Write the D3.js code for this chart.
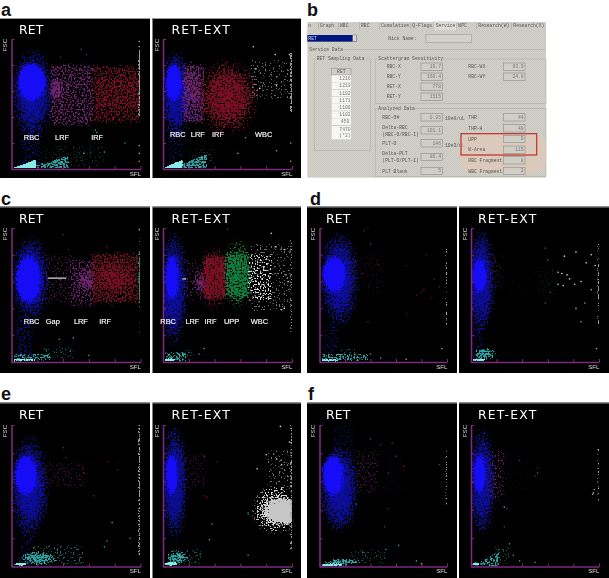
<!DOCTYPE html>
<html><head><meta charset="utf-8">
<script src="https://cdn.jsdelivr.net/npm/d3@7"></script>
<style>html,body{margin:0;background:#fff;overflow:hidden}svg{display:block}</style>
</head><body><svg id="c" width="609" height="578" font-family="Liberation Sans"></svg>
<script>
// ---------- DATA: FSC/SFL axes run 0-5 grid divisions ----------
const xTicks=[0,1,2,3,4,5], yTicks=[0,1,2,3,4,5];
// cloud rows: [series, e(llipse)|b(ox)|t(riangle), sfl0, sfl1, fsc0, fsc1, density]
const cloudsARet=[["RBCh","e",-.05,1.7,1.1,4.7,1],["RBCh","b",.35,1.15,.1,1.7,.2],["RBC","e",.18,1.38,2.55,4.15,1],
 ["LRF","b",1.5,3.2,1.7,4,.48],["LRF","e",1.42,2.05,2.55,3.55,1],["IRF","b",3.15,5,1.8,3.95,.48],["IRF","b",3.3,5,2.3,3.5,.28],
 ["PLT","t",.6,2.2,.04,.5,.72],["PLTc","t",.06,.95,.04,.36,.9],["PLT","b",1.3,3.6,.1,.9,.07],["SAT","b",4.93,4.98,2,4.6,1]];
const cloudsAExt=[["RBCh","e",-.15,1.15,1.1,4.7,1],["RBCh","b",.2,.8,.1,1.5,.18],["RBC","e",.08,.74,2.55,4.1,1],
 ["LRF","b",.75,1.6,1.8,4,.58],["LRF","e",.72,1.5,2.4,3.9,.8],["RBCh","b",.75,1.5,1.9,3,.2],["IRF","e",1.2,3.8,1.2,4.3,1],
 ["WBC","b",3.4,5,2.7,4.2,.12],["SAT","b",4.94,4.99,2.2,4.5,1],["PLTc","t",.02,.75,.04,.36,.9],["PLT","t",.4,1.7,.04,.6,.75],["PLT","b",1,2,.2,.8,.07]];
const cloudsCRet=[["RBCh","e",-.05,1.55,1.4,4.8,1],["RBCh","b",.2,.8,.1,1.7,.25],["RBC","e",.12,1.18,2.15,4.05,1],
 ["LRF","b",1.3,2.4,2.2,4,.17],["LRF","b",2.3,3.2,2.1,3.8,.38],["LRF","e",2.5,3.3,2.5,3.6,.85],["IRF","b",3.1,5,2.2,4.05,.55],["IRF","e",3,4.9,2.5,3.8,.7],
 ["SATg","b",4.93,4.98,2.2,4.1,1],["SAT","b",4.95,4.99,1,5,.2],["PLTc","b",.1,.9,.03,.12,.75],["PLT","b",.1,1.5,.05,.3,.5],["PLT","b",1.2,2.4,.15,.55,.14]];
const cloudsCExt=[["RBCh","e",-.2,1,.5,5,1],["RBC","e",.08,.62,2.25,4.05,1],
 ["LRF","b",.8,1.9,2.3,3.8,.18],["LRF","e",1.15,1.75,2.5,3.4,.9],["IRF","b",1.6,2.45,2.4,3.95,.85],["IRF","e",1.3,2.7,1.8,4.4,.7],
 ["UPP","b",2.45,3.35,2.4,4.05,.68],["UPP","e",2.25,3.55,1.9,4.7,.7],["WBC","b",3.3,4.2,2.3,4,.3],["WBC","b",3.4,5,1.9,4.4,.13],["SAT","b",4.95,4.99,1.1,4.6,.5],
 ["PLTc","e",.03,.5,.02,.14,.9],["PLT","b",.1,.9,.03,.35,.55],["PLT","b",.6,1.2,.2,.45,.14]];
const cloudsDRet=[["RBCh","e",-.05,1.6,1.2,5,1],["RBCh","b",.2,.7,.1,1.5,.18],["RBC","e",.08,1.08,2.55,4,1],
 ["LRF","b",1.3,2.5,2.6,4,.08],["PLTc","b",.1,.7,.03,.1,.8],["PLT","b",.1,1.9,.05,.3,.5],["PLT","b",.8,1.4,.2,.5,.14],["SAT","b",4.95,4.99,1.4,4.3,.55]];
const cloudsDExt=[["RBCh","e",-.2,1,.9,5.1,1],["RBCh","b",.05,.5,.1,1.3,.18],["RBC","e",.05,.62,2.55,3.9,1],
 ["LRF","b",.7,1.3,2.7,4,.12],["IRF","b",1.5,2.6,2.2,3.6,.05],["UPP","b",2.6,3.4,2.5,3.5,.07],["PLTc","e",.02,.6,.03,.14,.9],["PLT","e",.05,1,.05,.55,.95],["SAT","b",4.95,4.99,1.4,4.4,.6]];
const cloudsERet=[["RBCh","e",-.1,1.5,.9,4.7,1],["RBCh","b",.3,.8,.1,1.3,.16],["RBC","e",.08,1.02,2.45,4,1],
 ["LRF","b",1.3,2.9,2.8,3.7,.13],["IRF","b",3,4.6,3.3,3.8,.04],["PLTc","e",.1,.6,.02,.14,.9],["PLT","e",.2,1.8,.03,.55,.95],["PLT","b",.8,2.8,.05,.75,.17],["SAT","b",4.93,4.97,.4,5,1]];
const cloudsEExt=[["RBCh","e",-.1,1,.8,5.1,1],["RBC","e",.08,.57,2.45,4.05,1],
 ["LRF","b",.7,1.7,2.7,4,.1],["WBCd","e",3.85,5.6,1.45,2.45,1],["WBC","e",3.4,5.3,1.1,2.9,.8],["WBC","b",4,5,2.7,4.1,.13],
 ["SAT","b",4.95,4.99,.6,5,.85],["PLTc","e",.03,.6,.02,.18,.9],["PLT","e",.05,1.05,.03,.6,.95],["PLT","b",.8,1.5,.1,.6,.14]];
const cloudsFRet=[["RBCh","e",-.05,1.6,1.1,4.4,1],["RBCh","b",.5,1.3,1.5,5,.12],["RBC","e",.08,.98,2.45,4,1],
 ["LRF","b",1.4,2.3,2.6,4.1,.17],["LRF","b",2.3,3.4,2.6,4.1,.04],["PLTc","b",.12,.85,.02,.1,.8],["PLT","e",.15,1.7,.02,.3,.95],["PLT","b",1.2,2.6,.1,.6,.12],["SAT","b",4.95,4.99,2.2,4.2,.45]];
const cloudsFExt=[["RBCh","e",-.12,1,1.0,5,1],["RBC","e",.08,.58,2.55,4,1],
 ["LRF","b",.7,1.3,2.4,4.1,.25],["LRF","b",1.3,2.4,2.7,4,.04],["PLTc","e",.03,.35,.02,.15,.9],["PLT","t",.06,1.1,.03,.5,.55],["PLT","b",.8,1.5,.1,.7,.12],["SAT","b",4.95,4.99,2.3,4.3,.45]];
// individual events: [series, sfl, fsc]
const pointsARet=[["LRF",2.9,4.4],["LRF",2.7,4.6],["LRF",1.9,4.3],["PLT",3.25,1.5],["PLT",3.3,1.4],["PLT",3.6,.65],["PLT",4.4,1],["SAT",4.95,4.7],["SAT",4.95,4.9],["SAT",4.95,.9],["SAT",4.95,.6],["SAT",4.95,.3],["PLT",2.8,.6],["IRF",2,.02]];
const pointsAExt=[["WBC",3.5,4.7],["WBC",4.35,4.4],["WBC",4.9,4.4],["WBC",3.6,3.85],["WBC",4.4,3.2],["WBC",3.75,3.1],["SAT",4.4,.7],["PLT",3.2,1.2],["PLT",2.9,.6],["LRF",1.1,4.1],["SAT",4.95,.3],["SAT",4.95,1]];
const pointsCRet=[["LRF",2,4.75],["IRF",2.2,4.2],["IRF",3.7,4.3],["IRF",4.1,4.1],["PLT",1.85,.85],["PLT",2.4,.9],["PLT",3,.25],["SAT",4.95,4.95],["LRF",1.2,2.3],["IRF",3.9,2.1]];
const pointsCExt=[["WBC",4.2,4.8],["WBC",4.35,4.3],["WBC",4.7,4.2],["WBC",4.85,3],["WBC",4.7,2],["WBC",4.6,1.95],["LRF",2.5,4.95],["PLT",1.4,.3],["PLT",1.6,.5]];
const pointsDRet=[["LRF",1.75,4.9],["LRF",1.9,5],["LRF",2,4.4],["LRF",1.4,3.75],["LRF",2.3,3.65],["LRF",1.7,3.3],["IRF",3.4,3.6],["IRF",4.2,4],["IRF",4.1,2.7],["IRF",4.4,2.4],["IRF",4.7,2.8],["IRF",4.5,3.1],["IRF",3.8,2.5],["IRF",4,2.6],["IRF",3.4,1.8],["LRF",1.9,1.5],["PLT",2,.3],["PLT",2.4,.15],["SAT",4.8,.5],["SAT",3.4,.1]];
const pointsDExt=[["WBC",3.4,3.35],["WBC",3.55,3.3],["WBC",3.75,3.25],["WBC",3.85,3.1],["WBC",3.4,2.9],["WBC",3.6,2.85],["WBC",4.1,4.1],["WBC",4.7,4],["WBC",4.85,3.6],["WBC",3.65,3.95],["WBC",4.5,3.7],["WBC",4.3,3],["WBC",4.05,2.9],["SAT",4.7,2.7],["SAT",4.1,2],["SAT",4.3,1.5],["SAT",4.45,2.2],["UPP",2.9,4.25],["UPP",3,3.8],["UPP",3.1,2.6],["UPP",2.9,2.2],["SAT",4.9,.5]];
const pointsERet=[["IRF",2.1,3.85],["LRF",2.8,3.3],["IRF",3.75,3.7],["IRF",4.1,3.4],["PLT",3.9,1.55],["PLT",3.7,.9],["PLT",4.6,1],["PLT",3.6,.7],["LRF",3.2,2.5],["LRF",2,4.2]];
const pointsEExt=[["WBC",4.55,4.95],["WBC",4.9,4.4],["WBC",4,3.95],["WBC",3.65,3.45],["WBC",4.4,3.8],["WBC",4.6,3.6],["IRF",1.6,2.5],["IRF",1.7,2.45],["IRF",2.1,3.7],["PLT",1.9,1.5],["PLT",1.8,.95],["PLT",3.3,.4],["UPP",3.3,1.9],["UPP",3.3,1.85],["LRF",1.6,3.9]];
const pointsFRet=[["LRF",2,4.5],["LRF",1.9,3.65],["LRF",2.4,4.3],["LRF",2.85,4.35],["LRF",3,3.9],["LRF",3.3,3.55],["LRF",2.7,3.3],["LRF",4.7,3.6],["LRF",2.7,2.05],["LRF",2.55,1.4],["LRF",1.45,2.2],["PLT",1.7,.5],["PLT",2.6,.6],["PLT",3.1,.75],["PLT",3.8,.2],["SAT",4,.1]];
const pointsFExt=[["LRF",1.4,2.05],["LRF",1.3,1.4],["IRF",2.6,3.5],["UPP",2.6,3.3],["LRF",1.9,3.75],["LRF",2.5,3.2],["SAT",4.75,2.55],["SAT",4.82,2.72],["SAT",4.78,2.6],["PLT",1.5,.8],["PLT",1.65,.4],["PLT",1.9,.2],["PLT",2.5,.15],["SAT",1.3,2.1]];
// labels: [text, sfl, fsc]
const labelsARet=[["RBC",.78,1.12],["LRF",1.96,1.12],["IRF",3.32,1.12]];
const labelsAExt=[["RBC",.57,1.22],["LRF",1.35,1.22],["IRF",2.13,1.22],["WBC",3.9,1.22]];
const labelsCRet=[["RBC",.78,1.43],["Gap",1.6,1.43],["LRF",2.69,1.43],["IRF",3.63,1.43]];
const labelsCExt=[["RBC",.2,1.43],["LRF",1.14,1.43],["IRF",1.84,1.43],["UPP",2.66,1.43],["WBC",3.74,1.43]];
// white gap bars: [sfl0, sfl1, fsc]
const gapCRet=[[1.4,2.12,3.13]];
const gapCExt=[[.75,.9,3.1]];
const panelLetters=["a","b","c","d","e","f"];
const panelNames=["RET","RET-EXT"];
// instrument service screen (panel b)
const tabNames=["n","Graph","WBC","RBC","Cumulative","Q-Flags","Service","WPC","Research(W)","Research(X)"];
const retSampling=["1216","1219","1192","1171","1100","1102","459"];
const sensLabels=["RBC-X","RBC-Y","RET-X","RET-Y","RBC-WX","RBC-WY"];
const sensValues=["19.7","169.4","778","1515","93.9","24.8"];
const analyzedLeft=["RBC-O#","PLT-O","PLT Blank"];
const analyzedLeftValues=["0.95","146","5"];
const analyzedRight=["THR","THR-H","UPP","W-Area","RBC Fragment","WBC Fragment"];
const analyzedRightValues=["44","49","0","115","8","2"];

// ---------- LAYOUT & STYLE ----------
const svg=d3.select("#c"), defs=svg.append("defs");
// colour, noise seed, edge blur, density gain (above 1 = more solid)
const serStyle={RBC:["#1210f6",1,1.4,1.8],RBCh:["#11119c",2,1.6,1.25],LRF:["#6e2070",3,1.6,1],IRF:["#7c0e20",4,1.6,1],UPP:["#0d7f3e",5,1.4,1],
 WBC:["#d8d8d8",6,.6,1],WBCd:["#c6c6c6",7,1,1.5],PLT:["#2aa6a4",8,.7,1],PLTc:["#86ece6",9,.5,1.4],SAT:["#a0a0a0",10,0,1],SATg:["#2f8f70",11,0,1]};
const softBlob=new Set(["RBC","WBCd","PLTc"]);
const drawOrder=["RBCh","LRF","IRF","UPP","WBC","WBCd","PLT","SAT","SATg","RBC","PLTc"];
Object.entries(serStyle).forEach(([k,[col,seed,blur,gain]])=>{
 const f=defs.append("filter").attr("id","sp"+k).attr("filterUnits","userSpaceOnUse").attr("x",0).attr("y",0).attr("width",609).attr("height",578)
  .attr("color-interpolation-filters","sRGB");
 f.append("feTurbulence").attr("type","fractalNoise").attr("baseFrequency",.63).attr("numOctaves",1).attr("seed",seed).attr("result","t");
 f.append("feColorMatrix").attr("in","t").attr("type","matrix").attr("values","0 0 0 0 0 0 0 0 0 0 0 0 0 0 0 3.2 0 0 0 -1.1").attr("result","n");
 f.append("feGaussianBlur").attr("in","SourceAlpha").attr("stdDeviation",blur).attr("result","d");
 f.append("feComposite").attr("in","d").attr("in2","n").attr("operator","arithmetic").attr("k1",0).attr("k2",gain).attr("k3",1).attr("k4",-1).attr("result","m");
 const ct=f.append("feComponentTransfer").attr("in","m").attr("result","mm");ct.append("feFuncA").attr("type","linear").attr("slope",4).attr("intercept",0);
 f.append("feFlood").attr("flood-color",col).attr("result","fl");
 f.append("feComposite").attr("in","fl").attr("in2","mm").attr("operator","in");
});
[["soft",.45],["soft2",.3],["soft3",.45]].forEach(([id,s])=>defs.append("filter").attr("id",id).attr("filterUnits","userSpaceOnUse").attr("x",0).attr("y",0).attr("width",609).attr("height",578)
 .append("feGaussianBlur").attr("stdDeviation",s));
const rg=defs.append("radialGradient").attr("id","blob");
[[0,1],[.55,1],[.82,.6],[1,0]].forEach(([o,a])=>rg.append("stop").attr("offset",o).attr("stop-color","#fff").attr("stop-opacity",a));
const rg2=defs.append("radialGradient").attr("id","blobF");
[[0,1],[.45,.85],[.75,.42],[1,0]].forEach(([o,a])=>rg2.append("stop").attr("offset",o).attr("stop-color","#fff").attr("stop-opacity",a));
const pat=defs.append("pattern").attr("id","dith").attr("width",2).attr("height",2).attr("patternUnits","userSpaceOnUse");
pat.append("rect").attr("width",2).attr("height",2).attr("fill","#d1d1c9");
pat.append("rect").attr("width",1).attr("height",1).attr("fill","#c9c9c1");
pat.append("rect").attr("x",1).attr("y",1).attr("width",1).attr("height",1).attr("fill","#c9c9c1");

const colX={L:[[0,150,11.5,140.5],[152.5,301,163,292]],R:[[307,457,319.5,447],[459,609,471,599]]};
const rows={a:[18,178,39,169],c:[206.5,373,228,362],d:[206.5,373,228,362],e:[402.5,578,425,566.5],f:[402.5,578,425,566.5]};
const lay={a:"L",c:"L",d:"R",e:"L",f:"R"};
const sets={a:[[cloudsARet,pointsARet,labelsARet,[]],[cloudsAExt,pointsAExt,labelsAExt,[]]],
 c:[[cloudsCRet,pointsCRet,labelsCRet,gapCRet],[cloudsCExt,pointsCExt,labelsCExt,gapCExt]],
 d:[[cloudsDRet,pointsDRet,[],[]],[cloudsDExt,pointsDExt,[],[]]],
 e:[[cloudsERet,pointsERet,[],[]],[cloudsEExt,pointsEExt,[],[]]],
 f:[[cloudsFRet,pointsFRet,[],[]],[cloudsFExt,pointsFExt,[],[]]]};
const purple="#7c2a7c";

Object.keys(sets).forEach(letter=>{
 const [top,bot,yT,yB]=rows[letter];
 sets[letter].forEach(([clouds,points,labels,gaps],i)=>{
  const [px0,px1,xL,xR]=colX[lay[letter]][i];
  const x=d3.scaleLinear().domain([0,5]).range([xL,xR]), y=d3.scaleLinear().domain([0,5]).range([yB,yT]);
  svg.append("rect").attr("x",px0).attr("y",top).attr("width",px1-px0).attr("height",bot-top).attr("fill","#000");
  svg.append("rect").attr("x",px0).attr("y",top).attr("width",px1-px0).attr("height",1).attr("fill","#9a9a9a");
  const cid=`clip${letter}${i}`;
  defs.append("clipPath").attr("id",cid).append("rect").attr("x",xL).attr("y",yT).attr("width",xR-xL).attr("height",yB-yT);
  const plot=svg.append("g").attr("clip-path",`url(#${cid})`).append("g").attr("filter","url(#soft)");
  const tri=d3.line();
  drawOrder.forEach(s=>{
   const rowsS=clouds.filter(d=>d[0]===s); if(!rowsS.length) return;
   const g=plot.append("g").attr("filter",`url(#sp${s})`);
   g.selectAll("ellipse").data(rowsS.filter(d=>d[1]==="e")).join("ellipse")
    .attr("cx",d=>x((d[2]+d[3])/2)).attr("cy",d=>y((d[4]+d[5])/2))
    .attr("rx",d=>Math.abs(x(d[3])-x(d[2]))/2).attr("ry",d=>Math.abs(y(d[4])-y(d[5]))/2)
    .attr("fill",softBlob.has(s)?"url(#blob)":"url(#blobF)").attr("opacity",d=>d[6]);
   g.selectAll("rect").data(rowsS.filter(d=>d[1]==="b")).join("rect")
    .attr("x",d=>x(d[2])).attr("y",d=>y(d[5])).attr("width",d=>x(d[3])-x(d[2])).attr("height",d=>y(d[4])-y(d[5]))
    .attr("fill","#fff").attr("opacity",d=>d[6]);
   g.selectAll("path").data(rowsS.filter(d=>d[1]==="t")).join("path")
    .attr("d",d=>tri([[x(d[2]),y(d[4])],[x(d[3]),y(d[4])],[x(d[3]),y(d[5])]])+"Z")
    .attr("fill","#fff").attr("opacity",d=>d[6]);
  });
  plot.selectAll("circle.ev").data(points).join("circle").attr("class","ev")
   .attr("cx",d=>x(d[1])).attr("cy",d=>y(d[2])).attr("r",.8).attr("fill",d=>serStyle[d[0]][0]);
  svg.selectAll(null).data(gaps).join("line").attr("x1",d=>x(d[0])).attr("x2",d=>x(d[1])).attr("y1",d=>y(d[2])).attr("y2",d=>y(d[2]))
   .attr("stroke","#e0e0e0").attr("stroke-width",1.2);
  // axes
  const ax=svg.append("g").attr("transform",`translate(0,${yB})`).call(d3.axisBottom(x).tickValues(xTicks).tickSizeInner(-3).tickSizeOuter(0).tickFormat(""));
  const ay=svg.append("g").attr("transform",`translate(${xL},0)`).call(d3.axisLeft(y).tickValues(yTicks).tickSizeInner(-3).tickSizeOuter(0).tickFormat(""));
  [ax,ay].forEach(a=>{a.selectAll("path,line").attr("stroke",purple);a.select("path").attr("stroke-width",1.6);a.selectAll("line").attr("stroke-width",1)});
  // text
  const txt=svg.append("g").attr("filter","url(#soft2)");
  txt.append("text").text(panelNames[i]).attr("x",px0+19).attr("y",top+16).attr("font-size",12.4).attr("fill","#fff")
   .attr("font-family","DejaVu Sans").attr("letter-spacing",i?1.2:.2);
  txt.append("text").text("SFL").attr("x",xR+.5).attr("y",yB+6.8).attr("text-anchor","end").attr("font-size",6.2).attr("fill","#ddd");
  txt.append("text").text("FSC").attr("transform",`translate(${xL-4.5},${yT+6}) rotate(-90)`).attr("text-anchor","middle").attr("font-size",6.2).attr("fill","#ddd");
  txt.selectAll(null).data(labels).join("text").text(d=>d[0]).attr("x",d=>x(d[1])).attr("y",d=>y(d[2])).attr("text-anchor","middle")
   .attr("font-size",7.4).attr("fill","#fff").attr("stroke","#fff").attr("stroke-width",.15);
 });
});
// panel letters
const letterPos=[[1,16],[307,16],[1,205],[310,205],[1,400],[308,400]];
svg.selectAll("text.pl").data(panelLetters).join("text").attr("class","pl").text(d=>d)
 .attr("x",(d,i)=>letterPos[i][0]).attr("y",(d,i)=>letterPos[i][1]).attr("font-size",18).attr("font-weight",700).attr("fill","#111");

// ---------- PANEL b: service screen ----------
const Z=v=>v/3, bx=v=>300+v/3, by=v=>v/3;
const b=svg.append("g").attr("filter","url(#soft3)");
const mono="Liberation Mono", ink="#565656";
b.append("rect").attr("x",bx(22)).attr("y",by(66)).attr("width",Z(716)).attr("height",Z(467)).attr("fill","url(#dith)");
const T=(s,zx,zy,o={})=>b.append("text").text(s).attr("x",bx(zx)).attr("y",by(zy)+1.7).attr("font-family",mono).attr("font-size",o.fs||4.7).attr("fill",o.c||ink).attr("text-anchor",o.a||"start");
const R=(x0,y0,x1,y1,f,s,w)=>b.append("rect").attr("x",bx(x0)).attr("y",by(y0)).attr("width",Z(x1-x0)).attr("height",Z(y1-y0)).attr("fill",f||"none").attr("stroke",s||"none").attr("stroke-width",w||.6);
const tabX=[25,60,120,183,243,337,407,475,535,640];
R(400,64,470,90,"#dcdcd4");
tabNames.forEach((t,i)=>{T(t,tabX[i],77);if(i)R(tabX[i]-6,68,tabX[i]-5,88,"#8a8a84");});
R(22,105,170,125,"#06147e");T("RET",25,115,{c:"#dde"});R(158,105,170,125,"#d8d8d0","#666",.4);
T("Nick Name:",265,115);R(378,103,515,128,"#d2d2ca","#999");
T("Service Data",28,149);R(130,148,738,150,"#b2b2aa");
R(43,177,212,452,"none","#b0b0a8");R(50,170,196,180,"url(#dith)");T("RET Sampling Data",50,175);
R(226,177,738,310,"none","#b0b0a8");R(233,170,428,180,"url(#dith)");T("Scattergram Sensitivity",235,175);
R(226,325,738,530,"none","#b0b0a8");R(233,320,345,330,"url(#dith)");T("Analyzed Data",235,326);
R(95,205,153,225,"#cfcfc8","#999");T("RET",124,215,{a:"middle"});
const rowY=[236,257,279,301,322,344,365];
retSampling.forEach((v,i)=>{R(95,rowY[i]-10,153,rowY[i]+10,"#f6f6f2");T(v,135,rowY[i],{a:"middle",c:"#777"});});
R(95,378,153,418,"#f6f6f2");T("7470",135,387,{a:"middle",c:"#777"});T("(*2)",135,407,{a:"middle",c:"#777"});
const box=(v,x0,x1,zy)=>{R(x0,zy-11,x1,zy+11,"#cfcfc7","#8d8d88");T(v,x1-4,zy-1,{a:"end",c:"#777"});};
const sensY=[200,230,260,290,200,230];
sensLabels.forEach((l,i)=>{const lx=i<4?260:505;T(l,lx,sensY[i]);i<4?box(sensValues[i],363,427,sensY[i]):box(sensValues[i],610,675,sensY[i]);});
const leftY=[352,430,513];
analyzedLeft.forEach((l,i)=>{T(l,247,leftY[i]);box(analyzedLeftValues[i],363,427,leftY[i]);});
T("Delta-RBC",247,383);T("(RBC-O/RBC-I)",247,403);box("101.1",363,427,391);
T("Delta-PLT",247,459);T("(PLT-O/PLT-I)",247,481);box("86.4",363,427,471);
T("10e6/uL",435,356);T("10e3/uL",435,435);
b.append("rect").attr("x",bx(480)).attr("y",by(400)).attr("width",Z(258)).attr("height",Z(118)).attr("rx",12).attr("fill","#e8c8b4").attr("opacity",.55);
const rightY=[352,385,417,449,481,513];
analyzedRight.forEach((l,i)=>{T(l,505,rightY[i]);box(analyzedRightValues[i],610,675,rightY[i]);});
R(483,401,710,465,"none","#c23a34",1.3);
</script></body></html>
